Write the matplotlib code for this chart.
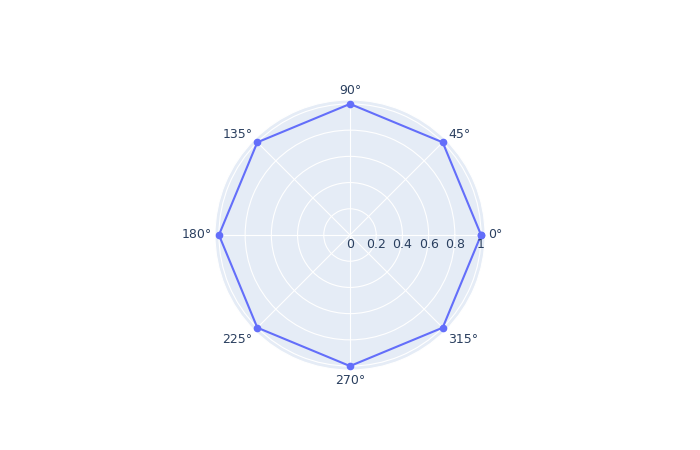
import numpy as np
import matplotlib
matplotlib.use("Agg")
import matplotlib.pyplot as plt

# data
theta_deg = [0, 45, 90, 135, 180, 225, 270, 315, 360]
r_vals = [1, 1, 1, 1, 1, 1, 1, 1, 1]
angle_ticks = [0, 45, 90, 135, 180, 225, 270, 315]
angle_labels = ["0°", "45°", "90°", "135°", "180°", "225°", "270°", "315°"]
radial_ticks = [0, 0.2, 0.4, 0.6, 0.8, 1]
radial_labels = ["0", "0.2", "0.4", "0.6", "0.8", "1"]

txt_color = "#2a3f5f"
fsize = 9
plt.rcParams["font.family"] = ["DejaVu Sans"]

fig = plt.figure(figsize=(7, 4.5), dpi=100)
fig.patch.set_facecolor("white")
# centre (350, 235) px, radius 135 px
w = 270 / 700
h = 270 / 450
cx = 0.5
cy = (450 - 235) / 450
ax = fig.add_axes([cx - w / 2, cy - h / 2, w, h], projection="polar")
ax.set_facecolor("#E5ECF6")
rmax = 1.03
ax.set_ylim(0, rmax)

ax.set_xticks(np.deg2rad(angle_ticks))
ax.set_xticklabels([])
ax.set_yticks(radial_ticks[1:])
ax.set_yticklabels([])
ax.grid(True, color="white", linewidth=0.8)
ax.spines["polar"].set_color("white")
ax.spines["polar"].set_linewidth(0.8)
ax.tick_params(length=0)

th = np.deg2rad(theta_deg)
ax.plot(th, r_vals, color="#636efa", linewidth=1.5, marker="o",
        markersize=4.5, zorder=5, clip_on=False)

# angular labels outside the circle (pixel offsets from the rim, y up)
offsets = {0: (3, 0), 45: (2.5, 5), 90: (0, 10), 135: (-2, 5),
           180: (-3, 0), 225: (-2, -9), 270: (0, -10), 315: (2.5, -9)}
for a, lab in zip(angle_ticks, angle_labels):
    c = np.cos(np.deg2rad(a))
    ha = "left" if c > 0.1 else ("right" if c < -0.1 else "center")
    ax.annotate(lab, xy=(np.deg2rad(a), rmax), xytext=offsets[a],
                textcoords="offset pixels", ha=ha, va="center",
                color=txt_color, fontsize=fsize, annotation_clip=False)

# radial labels below the 0 degree line
for rv, lab in zip(radial_ticks, radial_labels):
    ax.annotate(lab, xy=(0, rv), xytext=(0, -10), textcoords="offset pixels",
                ha="center", va="center", color=txt_color, fontsize=fsize,
                annotation_clip=False, zorder=6)

fig.savefig("out.png", dpi=100, facecolor="white")
